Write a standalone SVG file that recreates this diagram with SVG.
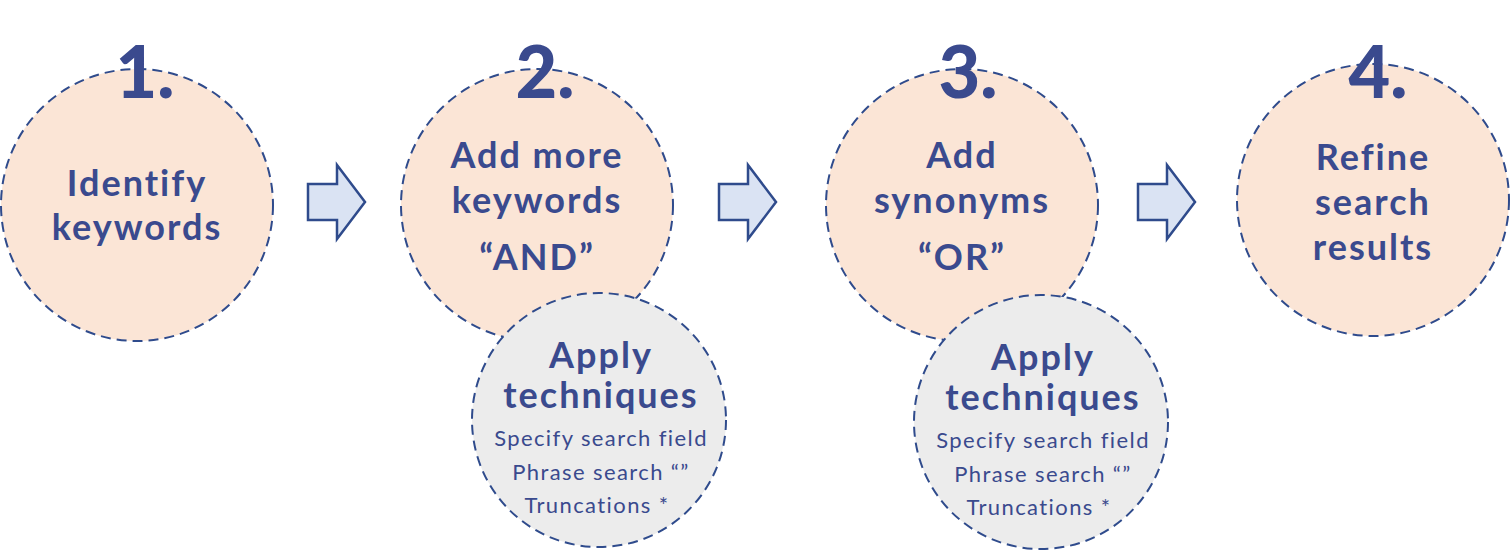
<svg xmlns="http://www.w3.org/2000/svg" width="1511" height="552" viewBox="0 0 1511 552">
<style>
.pc{fill:#fbe5d6;stroke:#2f4b8c;stroke-width:2;stroke-dasharray:10 6}
.gc{fill:#ececec;stroke:#2f4b8c;stroke-width:2;stroke-dasharray:10 6}
.ar{fill:#dae3f3;stroke:#2f4b8c;stroke-width:2.5;stroke-linejoin:miter}
text{font-family:"Lato","Liberation Sans",sans-serif;fill:#3a4a8e;text-anchor:middle}
.n{font-size:72px;font-weight:900}
.t{font-size:36px;font-weight:bold;letter-spacing:2px}
.s{font-size:22px;letter-spacing:1.4px}
</style>
<g id="node1"><circle class="pc" cx="137" cy="205" r="136"/>
<text class="n" x="145" y="98">1.</text>
<text class="t" x="137" y="196">Identify</text><text class="t" x="137" y="240">keywords</text></g>
<g id="node2"><circle class="pc" cx="537" cy="205" r="136"/>
<text class="n" x="545" y="98">2.</text>
<text class="t" x="537" y="168">Add more</text><text class="t" x="537" y="213">keywords</text><text class="t" x="537" y="270">“AND”</text></g>
<g id="node3"><circle class="pc" cx="962" cy="205" r="136"/>
<text class="n" x="968" y="98">3.</text>
<text class="t" x="962" y="168">Add</text><text class="t" x="962" y="213">synonyms</text><text class="t" x="962" y="270">“OR”</text></g>
<g id="node4"><circle class="pc" cx="1373" cy="200" r="136"/>
<text class="n" x="1378" y="98">4.</text>
<text class="t" x="1373" y="170">Refine</text><text class="t" x="1373" y="215">search</text><text class="t" x="1373" y="260">results</text></g>
<g id="node5"><circle class="gc" cx="599" cy="420" r="127"/>
<text class="t" x="601" y="368">Apply</text><text class="t" x="601" y="408">techniques</text>
<text class="s" x="601" y="446">Specify search field</text><text class="s" x="601" y="480">Phrase search “”</text><text class="s" x="597" y="513">Truncations *</text></g>
<g id="node6"><circle class="gc" cx="1041" cy="422" r="127"/>
<text class="t" x="1043" y="370">Apply</text><text class="t" x="1043" y="410">techniques</text>
<text class="s" x="1043" y="448">Specify search field</text><text class="s" x="1043" y="482">Phrase search “”</text><text class="s" x="1039" y="515">Truncations *</text></g>
<g id="connectors">
<path class="ar" d="M308,184H337V165L365,202L337,239V220H308Z"/>
<path class="ar" d="M719,184H748V165L776,202L748,239V220H719Z"/>
<path class="ar" d="M1138,184H1167V165L1195,202L1167,239V220H1138Z"/>
</g>
</svg>
